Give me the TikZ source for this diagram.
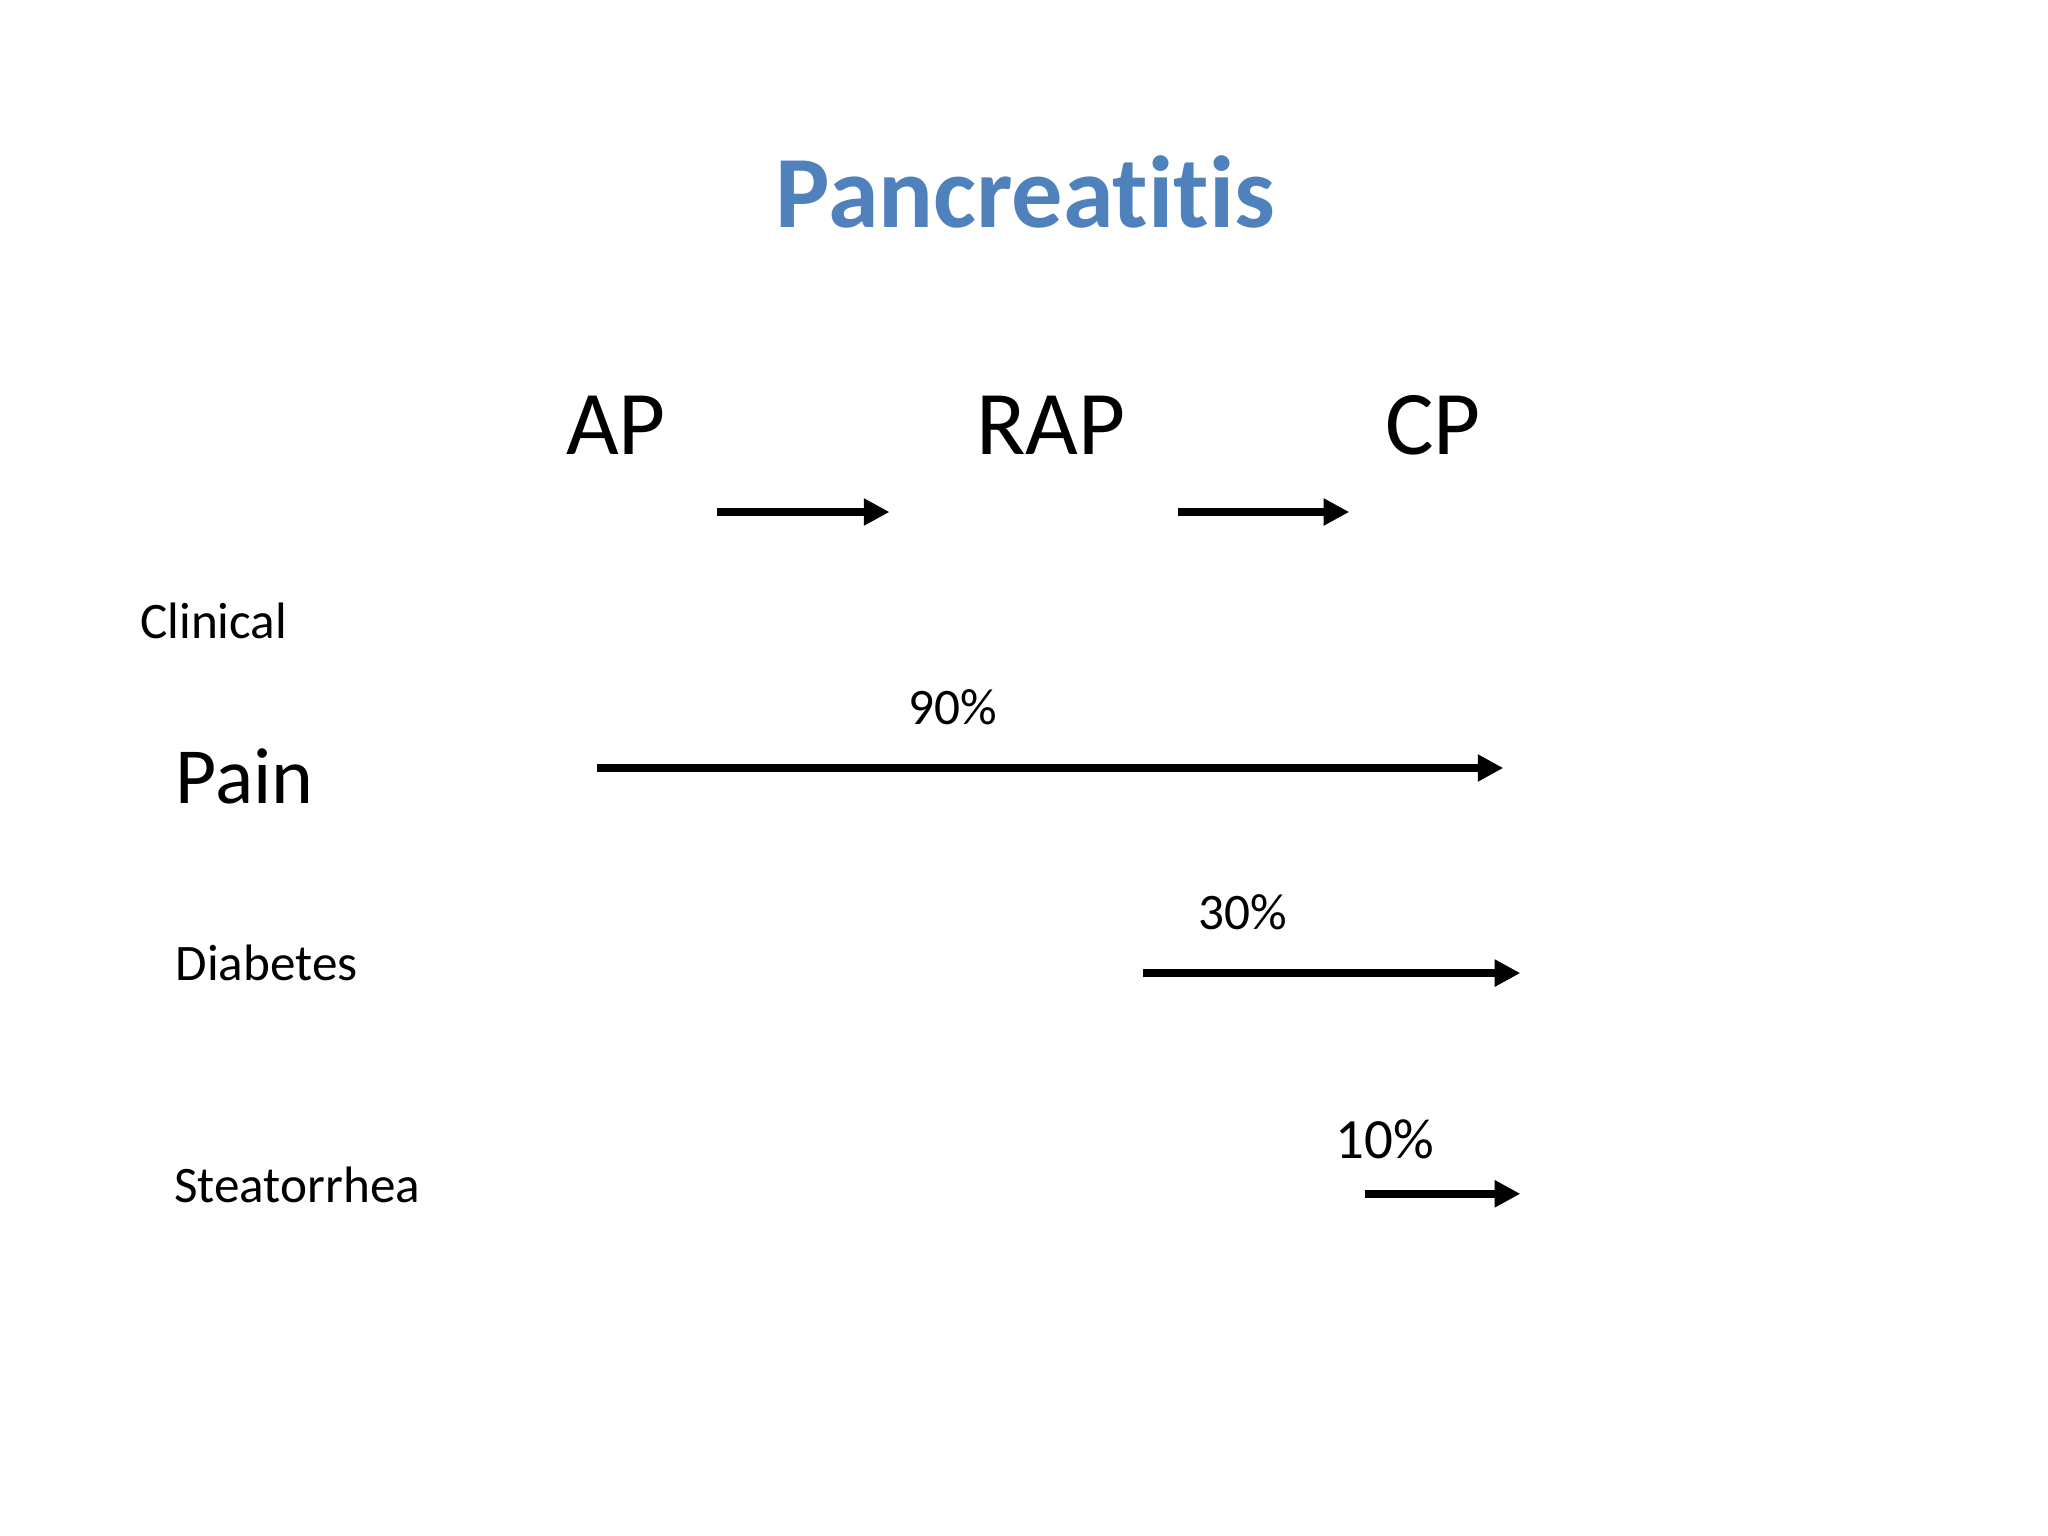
\documentclass[tikz,border=0pt]{standalone}
\usepackage{fontspec}
\setmainfont[Ligatures={NoCommon}]{Carlito}
\usetikzlibrary{arrows.meta}
\definecolor{titleblue}{HTML}{4F81BD}
\tikzset{
  lbl/.style={inner sep=0pt, anchor=base west, text=black},
  arr/.style={line width=2.75pt, -{Triangle[length=9pt,width=9pt]}, black}
}
\begin{document}
\begin{tikzpicture}[x=0.45918pt,y=-0.45918pt]
\useasboundingbox[fill=white] (0,0) rectangle (1568,1176);
% title
\node[inner sep=0pt, anchor=base, text=titleblue, font=\fontsize{36}{40}\selectfont\bfseries] (title) at (785,174) {Pancreatitis};
% stages
\node[lbl, font=\fontsize{32}{36}\selectfont] (ap) at (433,348) {AP};
\node[lbl, font=\fontsize{32}{36}\selectfont] (rap) at (747,348) {RAP};
\node[lbl, font=\fontsize{32}{36}\selectfont] (cp) at (1060,348) {CP};
\coordinate (a1s) at (549,392); \coordinate (a1e) at (681,392);
\coordinate (a2s) at (902,392); \coordinate (a2e) at (1033,392);
\draw[arr] (a1s) -- (a1e);
\draw[arr] (a2s) -- (a2e);
% rows
\node[lbl, font=\fontsize{18}{22}\selectfont] (clin) at (107,489) {Clinical};
\node[lbl, font=\fontsize{28}{32}\selectfont] (pain) at (134,615) {Pain};
\node[lbl, font=\fontsize{18}{22}\selectfont] (p90) at (695,555) {90\%};
\coordinate (ps) at (457,588); \coordinate (pe) at (1151,588);
\draw[arr] (ps) -- (pe);
\node[lbl, font=\fontsize{18}{22}\selectfont] (diab) at (134,751) {Diabetes};
\node[lbl, font=\fontsize{18}{22}\selectfont] (p30) at (917,712) {30\%};
\coordinate (ds) at (875,745); \coordinate (de) at (1164,745);
\draw[arr] (ds) -- (de);
\node[lbl, font=\fontsize{18}{22}\selectfont] (stea) at (133,921) {Steatorrhea};
\node[lbl, font=\fontsize{20}{24}\selectfont] (p10) at (1022,887) {10\%};
\coordinate (ss) at (1045,914); \coordinate (se) at (1164,914);
\draw[arr] (ss) -- (se);
\end{tikzpicture}
\end{document}
